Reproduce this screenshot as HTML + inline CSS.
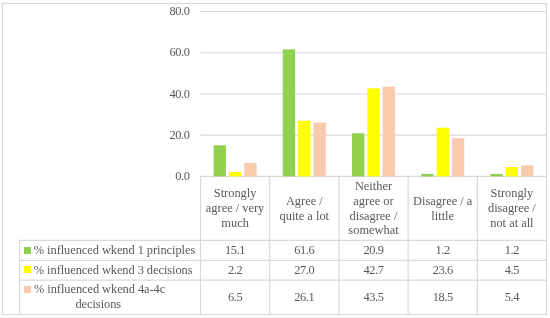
<!DOCTYPE html>
<html><head><meta charset="utf-8">
<style>
html,body{margin:0;padding:0;background:#fff;}
body{width:550px;height:318px;overflow:hidden;position:relative;font-family:"Liberation Serif",serif;color:#595959;}
svg{position:absolute;left:0;top:0;}
.t{position:absolute;font-size:12.4px;line-height:14.9px;white-space:nowrap;}
.y{text-align:right;width:40px;left:149.5px;letter-spacing:-0.4px;}
.n{letter-spacing:-0.4px;}
.c{text-align:center;}
.k{position:absolute;width:7px;height:7px;}
</style></head><body>
<svg width="550" height="318" viewBox="0 0 550 318">
<g fill="none" stroke="#d9d9d9" stroke-width="1.2">
<rect x="2.5" y="3.5" width="544" height="311"/>
<line x1="200.3" y1="11.5" x2="546.5" y2="11.5"/><line x1="200.3" y1="52.75" x2="546.5" y2="52.75"/><line x1="200.3" y1="94" x2="546.5" y2="94"/><line x1="200.3" y1="135.2" x2="546.5" y2="135.2"/>
<line x1="200.3" y1="176.4" x2="546.5" y2="176.4"/><line x1="19.5" y1="240.4" x2="546.5" y2="240.4"/><line x1="19.5" y1="260.4" x2="546.5" y2="260.4"/><line x1="19.5" y1="280.1" x2="546.5" y2="280.1"/><line x1="19.5" y1="240.4" x2="19.5" y2="314.5"/><line x1="200.5" y1="176.4" x2="200.5" y2="314.5"/><line x1="269.7" y1="176.4" x2="269.7" y2="314.5"/><line x1="338.9" y1="176.4" x2="338.9" y2="314.5"/><line x1="408.1" y1="176.4" x2="408.1" y2="314.5"/><line x1="477.3" y1="176.4" x2="477.3" y2="314.5"/>
</g>
<rect x="213.60" y="145.26" width="12.3" height="31.14" fill="#92d050"/><rect x="228.95" y="171.86" width="12.3" height="4.54" fill="#ffff00"/><rect x="244.30" y="162.99" width="12.3" height="13.41" fill="#f8cbad"/><rect x="282.80" y="49.35" width="12.3" height="127.05" fill="#92d050"/><rect x="298.15" y="120.71" width="12.3" height="55.69" fill="#ffff00"/><rect x="313.50" y="122.57" width="12.3" height="53.83" fill="#f8cbad"/><rect x="352.00" y="133.29" width="12.3" height="43.11" fill="#92d050"/><rect x="367.35" y="88.33" width="12.3" height="88.07" fill="#ffff00"/><rect x="382.70" y="86.68" width="12.3" height="89.72" fill="#f8cbad"/><rect x="421.20" y="173.93" width="12.3" height="2.48" fill="#92d050"/><rect x="436.55" y="127.72" width="12.3" height="48.68" fill="#ffff00"/><rect x="451.90" y="138.24" width="12.3" height="38.16" fill="#f8cbad"/><rect x="490.40" y="173.93" width="12.3" height="2.48" fill="#92d050"/><rect x="505.75" y="167.12" width="12.3" height="9.28" fill="#ffff00"/><rect x="521.10" y="165.26" width="12.3" height="11.14" fill="#f8cbad"/>
</svg>
<div class="t y" style="top:4.05px">80.0</div><div class="t y" style="top:45.30px">60.0</div><div class="t y" style="top:86.55px">40.0</div><div class="t y" style="top:127.75px">20.0</div><div class="t y" style="top:168.95px">0.0</div>
<div class="t c" style="left:200.50px;top:186px;width:69.2px;line-height:14px">Strongly</div><div class="t c" style="left:200.50px;top:201px;width:69.2px;line-height:14px">agree / very</div><div class="t c" style="left:200.50px;top:216px;width:69.2px;line-height:14px">much</div><div class="t c" style="left:269.70px;top:194px;width:69.2px;line-height:14px">Agree /</div><div class="t c" style="left:269.70px;top:209px;width:69.2px;line-height:14px">quite a lot</div><div class="t c" style="left:338.90px;top:179px;width:69.2px;line-height:14px">Neither</div><div class="t c" style="left:338.90px;top:194px;width:69.2px;line-height:14px">agree or</div><div class="t c" style="left:338.90px;top:209px;width:69.2px;line-height:14px">disagree /</div><div class="t c" style="left:338.90px;top:223px;width:69.2px;line-height:14px">somewhat</div><div class="t c" style="left:408.10px;top:194px;width:69.2px;line-height:14px">Disagree / a</div><div class="t c" style="left:408.10px;top:209px;width:69.2px;line-height:14px">little</div><div class="t c" style="left:477.30px;top:186px;width:69.2px;line-height:14px">Strongly</div><div class="t c" style="left:477.30px;top:201px;width:69.2px;line-height:14px">disagree /</div><div class="t c" style="left:477.30px;top:216px;width:69.2px;line-height:14px">not at all</div>
<div class="t c n" style="left:200.50px;top:242.95px;width:69.2px">15.1</div><div class="t c n" style="left:269.70px;top:242.95px;width:69.2px">61.6</div><div class="t c n" style="left:338.90px;top:242.95px;width:69.2px">20.9</div><div class="t c n" style="left:408.10px;top:242.95px;width:69.2px">1.2</div><div class="t c n" style="left:477.30px;top:242.95px;width:69.2px">1.2</div><div class="t c n" style="left:200.50px;top:262.80px;width:69.2px">2.2</div><div class="t c n" style="left:269.70px;top:262.80px;width:69.2px">27.0</div><div class="t c n" style="left:338.90px;top:262.80px;width:69.2px">42.7</div><div class="t c n" style="left:408.10px;top:262.80px;width:69.2px">23.6</div><div class="t c n" style="left:477.30px;top:262.80px;width:69.2px">4.5</div><div class="t c n" style="left:200.50px;top:289.85px;width:69.2px">6.5</div><div class="t c n" style="left:269.70px;top:289.85px;width:69.2px">26.1</div><div class="t c n" style="left:338.90px;top:289.85px;width:69.2px">43.5</div><div class="t c n" style="left:408.10px;top:289.85px;width:69.2px">18.5</div><div class="t c n" style="left:477.30px;top:289.85px;width:69.2px">5.4</div>
<div class="k" style="left:24px;top:246.50px;background:#92d050"></div><div class="t" style="left:33.8px;top:242.95px;letter-spacing:-0.055px">% influenced wkend 1 principles</div><div class="k" style="left:24px;top:266.35px;background:#ffff00"></div><div class="t" style="left:33.8px;top:262.80px;letter-spacing:-0.055px">% influenced wkend 3 decisions</div><div class="k" style="left:24px;top:286.35px;background:#f8cbad"></div><div class="t" style="left:34px;top:282.40px;text-align:center;letter-spacing:-0.055px">% influenced wkend 4a-4c<br><span style="position:relative;left:-1.3px">decisions</span></div>
</body></html>
